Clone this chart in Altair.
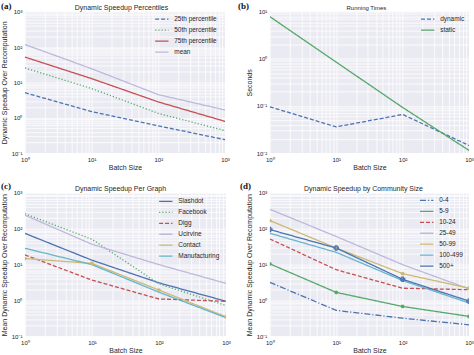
import altair as alt
import pandas as pd

batch = [1, 10, 100, 1000]

# (a) Dynamic Speedup Percentiles
pct_names = ["25th percentile", "50th percentile", "75th percentile", "mean"]
p25 = [5.1, 1.5, 0.59, 0.24]
p50 = [25.6, 6.7, 1.33, 0.43]
p75 = [52, 12.8, 2.8, 0.79]
pmean = [118, 24.4, 4.5, 1.66]

# (b) Running Times
rt_names = ["dynamic", "static"]
rt_dynamic = [0.096, 0.036, 0.066, 0.0145]
rt_static = [7.85, 0.85, 0.093, 0.0114]

# (c) Dynamic Speedup Per Graph
graph_names = ["Slashdot", "Facebook", "Digg", "Ucirvine", "Contact", "Manufacturing"]
slashdot = [74.6, 13.3, 3.1, 0.95]
facebook = [262, 51, 2.9, 0.72]
digg = [18.7, 3.7, 1.1, 0.95]
ucirvine = [240, 37, 10, 3.0]
contact = [14.8, 10.8, 1.95, 0.35]
manufacturing = [28.6, 10, 1.7, 0.33]

# (d) Dynamic Speedup by Community Size
comm_names = ["0-4", "5-9", "10-24", "25-49", "50-99", "100-499", "500+"]
c0_4 = [3.2, 0.53, 0.32, 0.21]
c5_9 = [10.5, 1.68, 0.68, 0.36]
c10_24 = [52, 7.2, 2.2, 2.0]
c25_49 = [350, 61, 10, 2.1]
c50_99 = [170, 29, 5.6, 2.2]
c100_499 = [75, 22, 3.6, 0.85]
c500 = [95, 29, 3.9, 0.96]

x_decades = [0, 1, 2, 3]
y_decades_speed = [-1, 0, 1, 2, 3]
y_decades_time = [-2, -1, 0, 1]
sup = {-2: "\u207b\u00b2", -1: "\u207b\u00b9", 0: "\u2070", 1: "\u00b9", 2: "\u00b2", 3: "\u00b3"}

BLUE, GREEN, RED, PURPLE, YELLOW, CYAN = "#4C72B0", "#55A868", "#C44E52", "#BDB8DC", "#CCB974", "#64B5CD"
SOLID, DASH, DOT, DASHDOT = [1, 0], [4, 2], [1.2, 2], [6, 2, 1.2, 2]
FONT = "Liberation Sans"


def tick_values(decades):
    vals = [m * 10 ** e for e in decades[:-1] for m in range(1, 10)]
    return vals + [10 ** decades[-1]]


def label_expr(decades):
    expr = "''"
    for e in reversed(decades):
        v = 10 ** e
        expr = f"abs(datum.value - {v}) < {v * 1e-6} ? '10{sup[e]}' : ({expr})"
    return expr


def make_df(names, series):
    rows = []
    for n, vals in zip(names, series):
        for b, v in zip(batch, vals):
            rows.append({"batch": b, "value": v, "series": n})
    return pd.DataFrame(rows)


def panel(names, series, colors, dashes, y_decades, ytitle, title, title_size, title_xy,
          letter, letter_xy, legend_xy, size, circle_series=(), plus_series=()):
    df = make_df(names, series)
    ydom = [10 ** y_decades[0], 10 ** y_decades[-1]]
    xaxis = alt.Axis(values=tick_values(x_decades), labelExpr=label_expr(x_decades))
    yaxis = alt.Axis(values=tick_values(y_decades), labelExpr=label_expr(y_decades))
    xs = alt.Scale(type="log", domain=[1, 1000], nice=False)
    ys = alt.Scale(type="log", domain=ydom, nice=False)
    leg = alt.Legend(orient="none", legendX=legend_xy[0], legendY=legend_xy[1], title=None)
    line = alt.Chart(df).mark_line(strokeWidth=1.3, clip=True).encode(
        x=alt.X("batch:Q", scale=xs, axis=xaxis, title="Batch Size"),
        y=alt.Y("value:Q", scale=ys, axis=yaxis, title=ytitle),
        color=alt.Color("series:N", scale=alt.Scale(domain=names, range=colors), legend=leg, title=None),
        strokeDash=alt.StrokeDash("series:N", scale=alt.Scale(domain=names, range=dashes), legend=leg, title=None),
    )
    layers = [line]
    cmap = dict(zip(names, colors))
    if circle_series:
        dfc = df[df["series"].isin(circle_series)].copy()
        dfc["hex"] = dfc["series"].map(cmap)
        layers.append(alt.Chart(dfc).mark_point(filled=True, size=14, opacity=1, clip=True).encode(
            x=alt.X("batch:Q", scale=xs, title="Batch Size"),
            y=alt.Y("value:Q", scale=ys, title=ytitle),
            color=alt.Color("hex:N", scale=None),
        ))
    if plus_series:
        dfp = df[df["series"].isin(plus_series)].copy()
        dfp["hex"] = dfp["series"].map(cmap)
        layers.append(alt.Chart(dfp).mark_point(filled=False, shape="cross", size=18, opacity=1,
                                                strokeWidth=1.2, clip=True).encode(
            x=alt.X("batch:Q", scale=xs, title="Batch Size"),
            y=alt.Y("value:Q", scale=ys, title=ytitle),
            stroke=alt.Stroke("hex:N", scale=None),
        ))
    lab = alt.Chart(pd.DataFrame({"t": [letter]})).mark_text(
        align="left", baseline="top", font="Liberation Serif", fontWeight="bold", fontSize=9, color="#111"
    ).encode(text="t:N", x=alt.value(letter_xy[0]), y=alt.value(letter_xy[1]))
    ttl = alt.Chart(pd.DataFrame({"t": [title]})).mark_text(
        align="center", baseline="top", font=FONT, fontSize=title_size, color="#262626"
    ).encode(text="t:N", x=alt.value(title_xy[0]), y=alt.value(title_xy[1]))
    layers += [lab, ttl]
    return alt.layer(*layers).properties(width=size[0], height=size[1])


pa = panel(pct_names, [p25, p50, p75, pmean], [BLUE, GREEN, RED, PURPLE], [DASH, DOT, SOLID, SOLID],
           y_decades_speed, "Dynamic Speedup Over Recomputation", "Dynamic Speedup Percentiles", 7, (97, -8),
           "(a)", (-24, -10), (130, 0), (201, 142))
pb = panel(rt_names, [rt_dynamic, rt_static], [BLUE, GREEN], [DASH, SOLID],
           y_decades_time, "Seconds", "Running Times", 6, (97, -7),
           "(b)", (-32, -10), (151, 0), (200, 142))
pc = panel(graph_names, [slashdot, facebook, digg, ucirvine, contact, manufacturing],
           [BLUE, GREEN, RED, PURPLE, YELLOW, CYAN], [SOLID, DOT, DASH, SOLID, SOLID, SOLID],
           y_decades_speed, "Mean Dynamic Speedup Over Recomputation", "Dynamic Speedup Per Graph", 7, (96, -8),
           "(c)", (-24, -11), (134, 1), (202, 144), circle_series=["Contact"])
pd_ = panel(comm_names, [c0_4, c5_9, c10_24, c25_49, c50_99, c100_499, c500],
            [BLUE, GREEN, RED, PURPLE, YELLOW, CYAN, BLUE], [DASHDOT, SOLID, DASH, SOLID, SOLID, SOLID, SOLID],
            y_decades_speed, "Mean Dynamic Speedup Over Recomputation", "Dynamic Speedup by Community Size", 7,
            (94, -8), "(d)", (-30, -11), (150, 0), (200, 144),
            circle_series=["5-9", "50-99"], plus_series=["500+"])

chart = alt.concat(pa, pb, pc, pd_, columns=2, spacing={"row": 40, "column": 44}, bounds="flush").resolve_scale(
    color="independent", strokeDash="independent", x="independent", y="independent"
).resolve_legend(
    color="independent", strokeDash="independent"
).properties(
    padding={"left": 0, "top": 1, "right": 0, "bottom": 0}
).configure_view(
    fill="#EAEAF2", stroke=None
).configure_axis(
    grid=True, gridColor="white", gridWidth=0.8, domain=False, ticks=False,
    labelFontSize=6, labelColor="#262626", labelFont=FONT, labelPadding=3,
    labelFlush=False, labelOverlap=False, labelBound=False,
    titleFontSize=7, titleFontWeight="normal", titleColor="#262626", titleFont=FONT,
).configure_axisX(
    titlePadding=1
).configure_axisY(
    titlePadding=4
).configure_legend(
    symbolType="stroke", symbolSize=180, symbolStrokeWidth=1.3, labelFontSize=6.5,
    labelFont=FONT, labelColor="#262626", rowPadding=-1.5, padding=0, labelOffset=5
)

chart.save("out.html", embed_options={"renderer": "svg", "actions": False})
